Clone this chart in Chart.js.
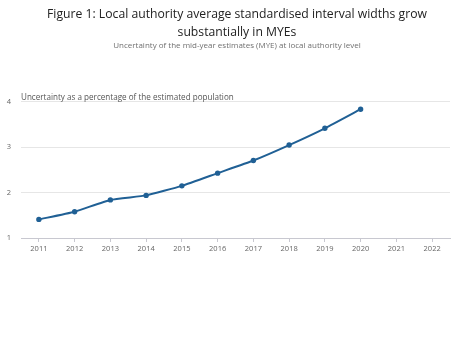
<!DOCTYPE html>
<html>
<head>
<meta charset="utf-8">
<script src="https://cdn.jsdelivr.net/npm/chart.js@4.4.1/dist/chart.umd.min.js"></script>
<style>
  html, body { margin: 0; padding: 0; background: #fff; }
  #wrap { width: 474px; height: 339px; position: relative; }
</style>
</head>
<body>
<div id="wrap"><canvas id="chart"></canvas></div>
<script>
const years = ["2011", "2012", "2013", "2014", "2015", "2016", "2017", "2018", "2019", "2020", "2021", "2022"];
const uncertainty = [1.41, 1.58, 1.84, 1.94, 2.15, 2.43, 2.71, 3.05, 3.42, 3.84, null, null];
const yTicks = [1, 2, 3, 4];

const titleLines = [
  "Figure 1: Local authority average standardised interval widths grow",
  "substantially in MYEs"
];
const subtitleText = "Uncertainty of the mid-year estimates (MYE) at local authority level";
const axisCaption = "Uncertainty as a percentage of the estimated population";

Chart.defaults.font.family = "'Open Sans', sans-serif";

// caption for the y axis, written above the top gridline
const axisCaptionPlugin = {
  id: "axisCaption",
  afterDraw(chart) {
    const { ctx, chartArea } = chart;
    ctx.save();
    ctx.font = "8.1px 'Open Sans', sans-serif";
    ctx.fillStyle = "#555";
    ctx.textBaseline = "bottom";
    ctx.textAlign = "left";
    ctx.fillText(axisCaption, chartArea.left, chartArea.top - 0.5);
    ctx.restore();
  }
};

new Chart(document.getElementById("chart"), {
  type: "line",
  data: {
    labels: years,
    datasets: [{
      data: uncertainty,
      borderColor: "#206095",
      backgroundColor: "#206095",
      borderWidth: 2,
      pointRadius: 1.7,
      pointHoverRadius: 3,
      tension: 0.15,
      spanGaps: false
    }]
  },
  options: {
    responsive: true,
    maintainAspectRatio: false,
    animation: false,
    layout: { padding: { top: 4, left: 0, right: 0, bottom: 81 } },
    plugins: {
      legend: { display: false },
      tooltip: { enabled: false },
      title: {
        display: true,
        text: titleLines,
        color: "#222",
        font: { size: 12.2, weight: "normal", lineHeight: 1.45 },
        padding: { top: 2, bottom: 0 }
      },
      subtitle: {
        display: true,
        text: subtitleText,
        color: "#707070",
        font: { size: 8, weight: "normal" },
        padding: { top: 0, bottom: 51 }
      }
    },
    scales: {
      x: {
        offset: true,
        grid: {
          drawOnChartArea: false,
          drawTicks: true,
          tickLength: 4,
          color: "#c8c8d0"
        },
        border: { display: true, color: "#c8c8d0", width: 1 },
        ticks: {
          color: "#666",
          font: { size: 7.5 },
          padding: 2,
          maxRotation: 0,
          autoSkip: false
        },
        afterFit(scale) { scale.height = 20; }
      },
      y: {
        min: 1,
        max: 4,
        afterBuildTicks(scale) {
          scale.ticks = yTicks.map(v => ({ value: v }));
        },
        grid: { color: "#e6e6e6", drawTicks: false },
        border: { display: false },
        ticks: {
          color: "#666",
          font: { size: 7.5 },
          padding: 10
        },
        afterFit(scale) { scale.width = 21; }
      },
      // empty right-hand margin so the titles stay centred on the page
      yRight: {
        position: "right",
        grid: { display: false },
        border: { display: false },
        ticks: { display: false },
        afterFit(scale) { scale.width = 24; }
      }
    }
  },
  plugins: [axisCaptionPlugin]
});
</script>
</body>
</html>
